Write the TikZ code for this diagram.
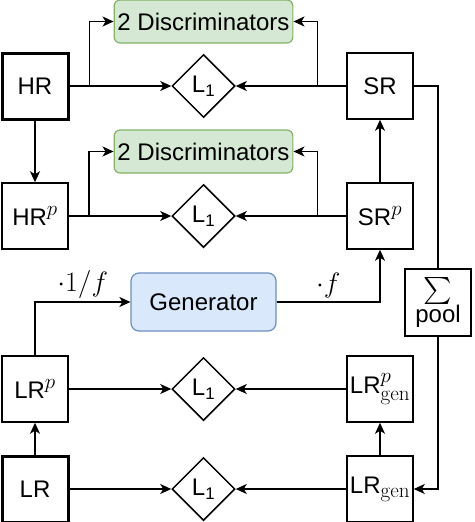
\RequirePackage{fix-cm}
\documentclass[tikz,border=0pt]{standalone}
\usepackage[no-math]{fontspec}
\usepackage{graphicx}
\setmainfont{Liberation Sans}
\usetikzlibrary{arrows.meta,shapes.geometric}
\definecolor{discfill}{HTML}{D5E8D4}
\definecolor{discline}{HTML}{82B366}
\definecolor{genfill}{HTML}{DAE8FC}
\definecolor{genline}{HTML}{6C8EBF}
\DeclareMathSizes{28}{28}{21}{15}
\newcommand{\mth}[1]{{\fontsize{28}{30}\selectfont$#1$}}
\newcommand{\bigsum}{\scalebox{2.7}{\fontsize{10}{12}\selectfont$\sum$}}

\begin{document}
\begin{tikzpicture}[x=1pt,y=-1pt,font=\fontsize{24}{28}\selectfont,line width=1.5pt,
		>={Stealth[length=11pt,width=10pt,inset=3pt]},
		box/.style={draw, minimum width=66pt, minimum height=66pt, inner sep=0pt},
		thickbox/.style={box, line width=3pt},
		loss/.style={diamond, draw, minimum width=63pt, minimum height=63pt, inner sep=0pt},
		disc/.style={draw=discline, fill=discfill, line width=1.2pt, rounded corners=6pt, minimum width=177pt, minimum height=43pt},
		gennode/.style={draw=genline, fill=genfill, line width=1.2pt, rounded corners=8pt, minimum width=145pt, minimum height=58pt},
		factor/.style={above, inner sep=3pt}]
		\useasboundingbox (0,0) rectangle (474,522);

		\node (hr)[thickbox] at (35,86) {HR};
		\node (hrp)[box] at (35,216) {HR\mth{^p}};
		\node (lrp)[box] at (35,389) {LR\mth{^p}};
		\node (lr)[thickbox] at (35,489) {LR};

		\node (sr)[box] at (380,86) {SR};
		\node (srp)[box] at (380,216) {SR\mth{^p}};
		\node (lrpgen)[box] at (380,389) {LR\mth{^p_{\mathrm{gen}}}};
		\node (lrgen)[box] at (380,489) {LR\mth{_{\mathrm{gen}}}};

		\node (disca)[disc] at (203.5,21.5) {2 Discriminators};
		\node (discb)[disc] at (203.5,151.5) {2 Discriminators};
		\node (la)[loss] at (203.5,86) {L\textsubscript{1}};
		\node (lb)[loss] at (203.5,216) {L\textsubscript{1}};
		\node (lc)[loss] at (203.5,389) {L\textsubscript{1}};
		\node (ld)[loss] at (203.5,489) {L\textsubscript{1}};

		\node (gen)[gennode] at (203.5,302) {Generator};
		\node (pool)[box, minimum height=67pt, align=center] at (438,302.5) {\bigsum\\[-4pt]pool};

		% HR side
		\draw [->](hr) -- (la);
		\draw [->](hr.east) ++(20,0) |- (disca.west);
		\draw [->](hr) -- (hrp);
		\draw [->](hrp) -- (lb);
		\draw [->](hrp.east) ++(20,0) |- (discb.west);

		% SR side
		\draw [->](sr) -- (la);
		\draw [->](sr.west) ++(-29,0) |- (disca.east);
		\draw [->](srp) -- (sr);
		\draw [->](srp) -- (lb);
		\draw [->](srp.west) ++(-29,0) |- (discb.east);

		% pooling path
		\draw (sr.east) -| (pool.north);
		\draw [->](pool.south) |- (lrgen.east);
		\draw [->](lrgen) -- (lrpgen);
		\draw [->](lrpgen) -- (lc);
		\draw [->](lrgen) -- (ld);

		% LR side
		\draw [->](lr) -- (lrp);
		\draw [->](lrp) -- (lc);
		\draw [->](lr) -- (ld);
		\draw [->](lrp.north) |- node [pos=0.75, factor]{\mth{\cdot 1/f}} (gen.west);
		\draw [->](gen.east) -| node [pos=0.25, factor]{\mth{\cdot f}} (srp.south);
	\end{tikzpicture}
\end{document}
